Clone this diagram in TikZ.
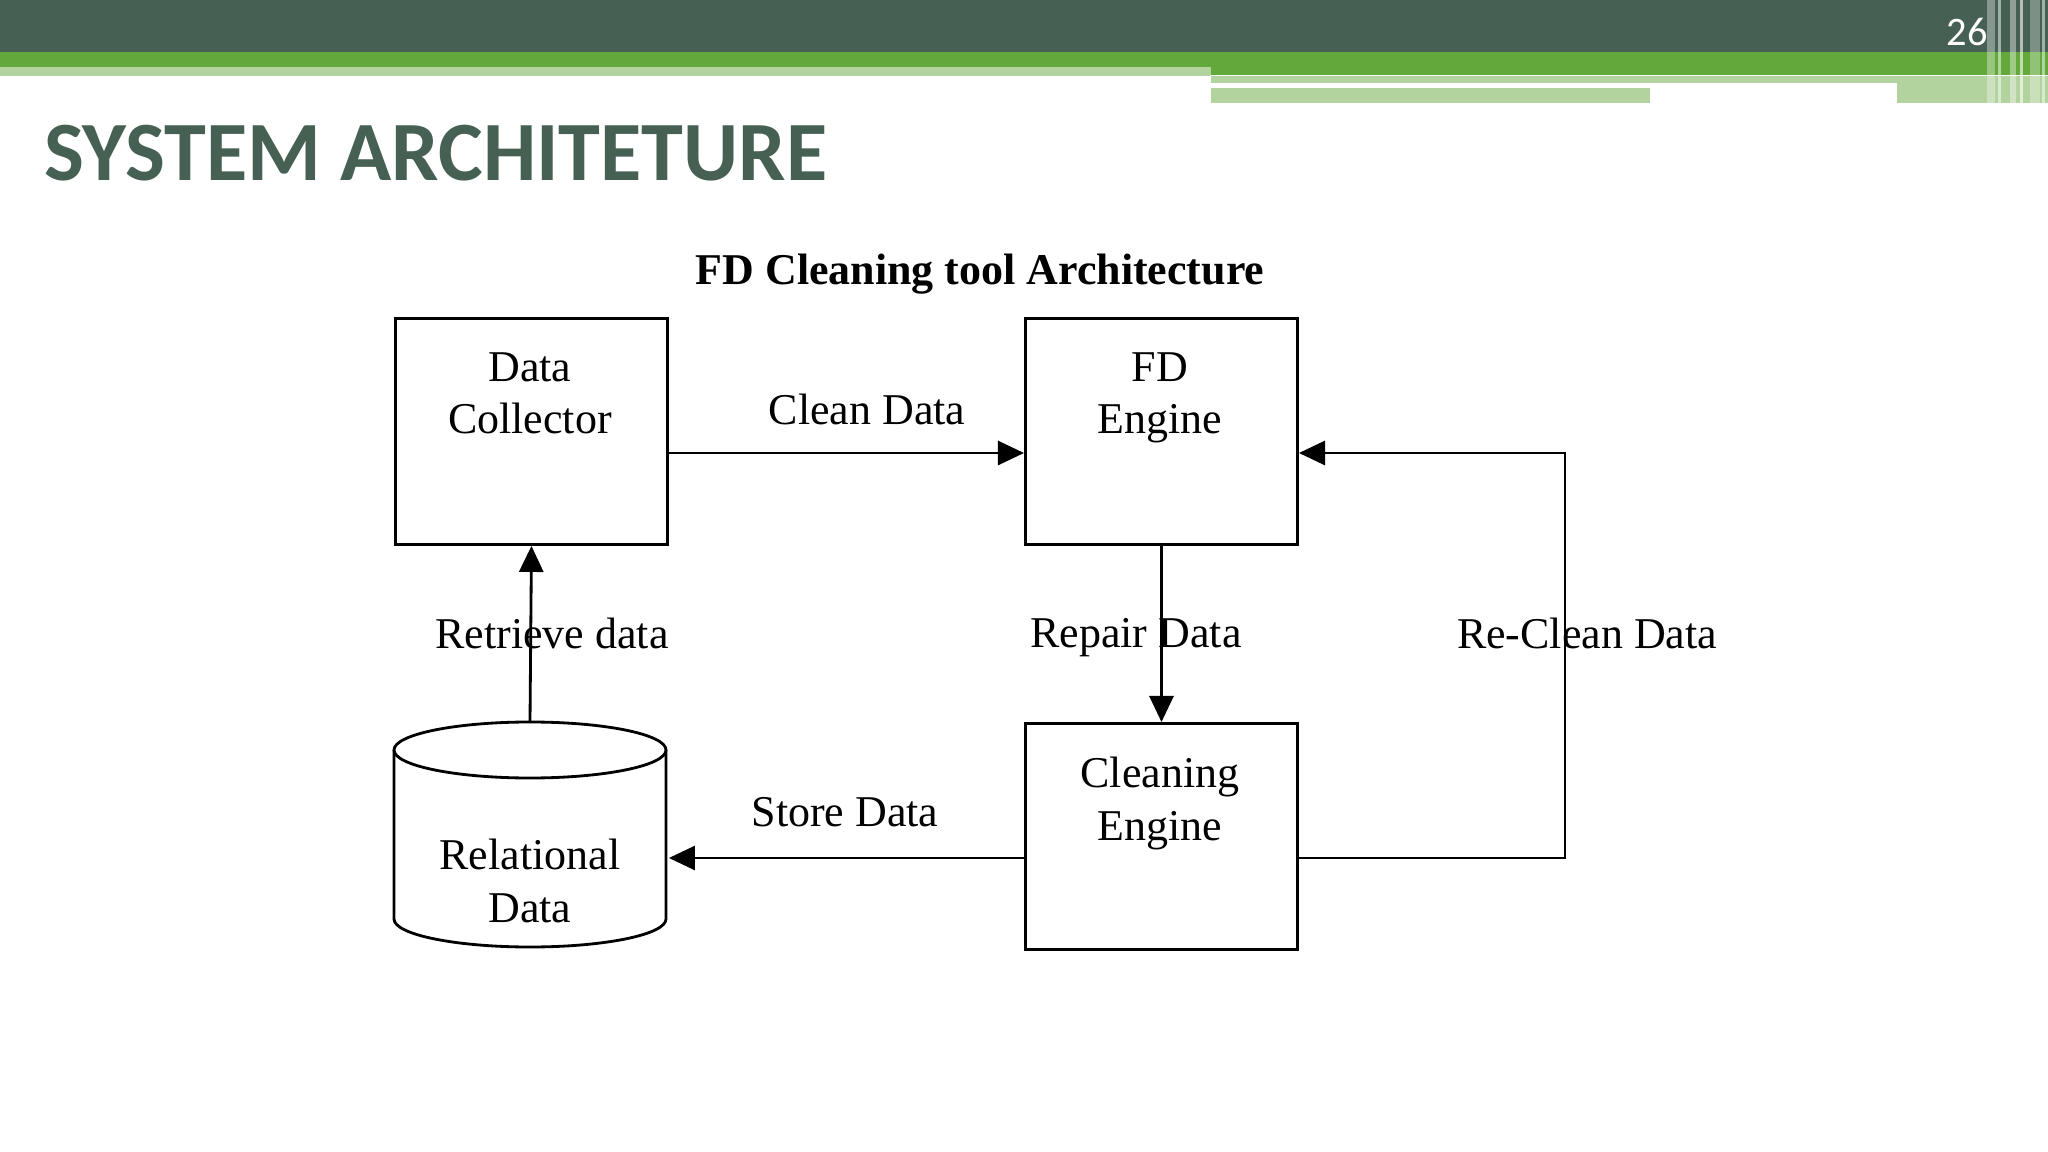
\documentclass[tikz,border=0pt]{standalone}
\usepackage{fontspec}
\setmainfont{Liberation Serif}
\newfontfamily\slidefont{Carlito}
\usetikzlibrary{arrows.meta}
\definecolor{dkg}{HTML}{466153}
\definecolor{mg}{HTML}{63A83A}
\definecolor{lg}{HTML}{B2D39D}
\definecolor{ttl}{HTML}{466153}
\begin{document}
\begin{tikzpicture}[x=0.01cm,y=-0.01cm,
  box/.style={draw,line width=0.8pt,minimum width=2.72cm,minimum height=2.26cm,anchor=north west,inner sep=0},
  lbl/.style={font=\fontsize{12.5}{15}\selectfont,align=center},
  arr/.style={line width=0.8pt,-{Triangle[length=0.26cm,width=0.24cm]}}]
\useasboundingbox (0,0) rectangle (2048,1152);
\fill[white] (0,0) rectangle (2048,1152);
% header
\fill[dkg] (0,0) rectangle (2048,52);
\fill[mg] (0,52) rectangle (2048,67);
\fill[mg] (1211,67) rectangle (2048,75);
\fill[lg] (0,67) rectangle (1211,76);
\fill[lg] (1211,76) rectangle (2048,83);
\fill[lg] (1211,88) rectangle (1650,103);
\fill[lg] (1897,83) rectangle (2048,103);
\fill[white] (1211,83) rectangle (1897,88);
\foreach \x/\w/\o in {1987/8/0.35,1998/3/0.5,2010/6/0.4,2020/3/0.6,2030/10/0.3,2042/3/0.5}
  \fill[white,opacity=\o] (\x,0) rectangle ({\x+\w},103);
\node[text=white,font=\slidefont\fontsize{11.5}{13}\selectfont] (pg) at (1967,32) {26};
\node[text=ttl,font=\slidefont\bfseries\fontsize{24}{28}\selectfont,anchor=west] (title) at (32,153) {SYSTEM ARCHITETURE};
% diagram
\node[font=\bfseries\fontsize{12.5}{15}\selectfont] (dtitle) at (980,274) {FD Cleaning tool Architecture};
\node[box] (dc) at (394,317) {};
\node[box] (fd) at (1024,317) {};
\node[box] (ce) at (1024,722) {};
\node[box,draw=none] (rd) at (394,722) {};
\draw[line width=0.8pt] (394,750) -- (394,919) arc[start angle=180,end angle=0,x radius=136,y radius=28] -- (666,750);
\draw[line width=0.8pt,fill=white] (530,750) ellipse[x radius=136,y radius=28];
\node[lbl,anchor=north] (t1) at (530,340) {Data\\Collector};
\node[lbl,anchor=north] (t2) at (1160,340) {FD\\Engine};
\node[lbl,anchor=north] (t3) at (1160,745) {Cleaning\\Engine};
\node[lbl] (t4) at (530,881) {Relational\\Data};
% connectors
\draw[arr] (dc.east |- 0,453) -- (fd.west |- 0,453);
\draw[arr] (fd.south) -- (ce.north);
\draw[arr] (ce.west |- 0,858) -- (rd.east |- 0,858);
\draw[arr] (530,722) -- (dc.south);
\coordinate (c1) at (1565,858);
\coordinate (c2) at (1565,453);
\draw[arr] (ce.east |- c1) -- (c1) -- (c2) -- (fd.east |- c2);
\node[lbl] (l1) at (867,409) {Clean Data};
\node[lbl] (l2) at (1136,638) {Repair Data};
\node[lbl] (l3) at (552,633) {Retrieve data};
\node[lbl] (l4) at (845,812) {Store Data};
\node[lbl] (l5) at (1587,633) {Re-Clean Data};
\end{tikzpicture}
\end{document}
